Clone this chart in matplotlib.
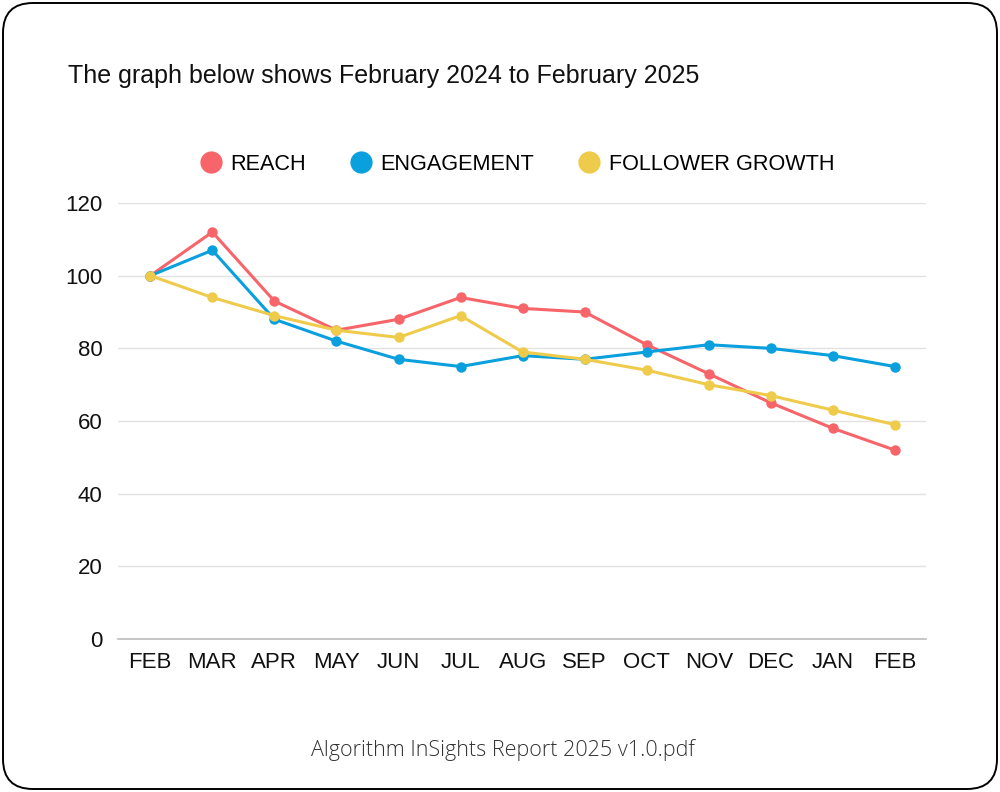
import numpy as np
import matplotlib
matplotlib.use("Agg")
import matplotlib.pyplot as plt
from matplotlib.patches import FancyBboxPatch

months = ["FEB", "MAR", "APR", "MAY", "JUN", "JUL", "AUG",
          "SEP", "OCT", "NOV", "DEC", "JAN", "FEB"]
reach = [100, 112, 93, 85, 88, 94, 91, 90, 81, 73, 65, 58, 52]
engagement = [100, 107, 88, 82, 77, 75, 78, 77, 79, 81, 80, 78, 75]
follower_growth = [100, 94, 89, 85, 83, 89, 79, 77, 74, 70, 67, 63, 59]
y_ticks = [0, 20, 40, 60, 80, 100, 120]

plt.rcParams['font.family'] = ['Liberation Sans', 'DejaVu Sans']

fig = plt.figure(figsize=(10, 7.92), dpi=100)

# rounded frame around the whole page
bg = fig.add_axes([0, 0, 1, 1])
bg.set_xlim(0, 1000)
bg.set_ylim(0, 792)
bg.axis("off")
bg.add_patch(FancyBboxPatch((3, 3), 994, 786,
                            boxstyle="round,pad=0,rounding_size=30",
                            facecolor="white", edgecolor="black", lw=1.4))

ax = fig.add_axes([0.118, 0.193, 0.808, 0.5507])
ax.set_facecolor("none")
x = np.arange(len(months))

series = [("REACH", reach, "#f7646a"),
          ("ENGAGEMENT", engagement, "#0a9fdd"),
          ("FOLLOWER GROWTH", follower_growth, "#efcb4b")]
for name, vals, col in series:
    ax.plot(x, vals, color=col, lw=2.2, marker="o", ms=7.5,
            markeredgewidth=0, label=name, zorder=3)

ax.set_xlim(-0.52, 12.5)
ax.set_ylim(0, 120)
ax.set_yticks(y_ticks)
ax.set_xticks(x)
ax.set_xticklabels(months)
ax.tick_params(length=0, labelsize=16, colors="#111111")
ax.tick_params(axis="y", pad=11)
ax.tick_params(axis="x", pad=9)
ax.grid(axis="y", color="#e2e2e2", lw=1)
ax.set_axisbelow(True)
for s in ["top", "right", "left"]:
    ax.spines[s].set_visible(False)
ax.spines["bottom"].set_color("#bdbdbd")
ax.spines["bottom"].set_linewidth(1.2)

handles = [plt.Line2D([], [], ls="none", marker="o", ms=16,
                      markeredgewidth=0, color=col) for _, _, col in series]
fig.legend(handles, [n for n, _, _ in series], loc="center",
           bbox_to_anchor=(0.516, 0.7925), ncol=3, frameon=False,
           fontsize=15.6, handletextpad=0.3, columnspacing=1.95,
           handlelength=1.2)

fig.text(0.068, 0.904, "The graph below shows February 2024 to February 2025",
         fontsize=18, color="#111111", va="center", ha="left")

fig.text(0.503, 0.053, "Algorithm InSights Report 2025 v1.0.pdf",
         fontsize=15.5, color="#333333", ha="center", va="center",
         family=["Open Sans", "DejaVu Sans"], fontweight="light")

fig.savefig("out.png", dpi=100)
